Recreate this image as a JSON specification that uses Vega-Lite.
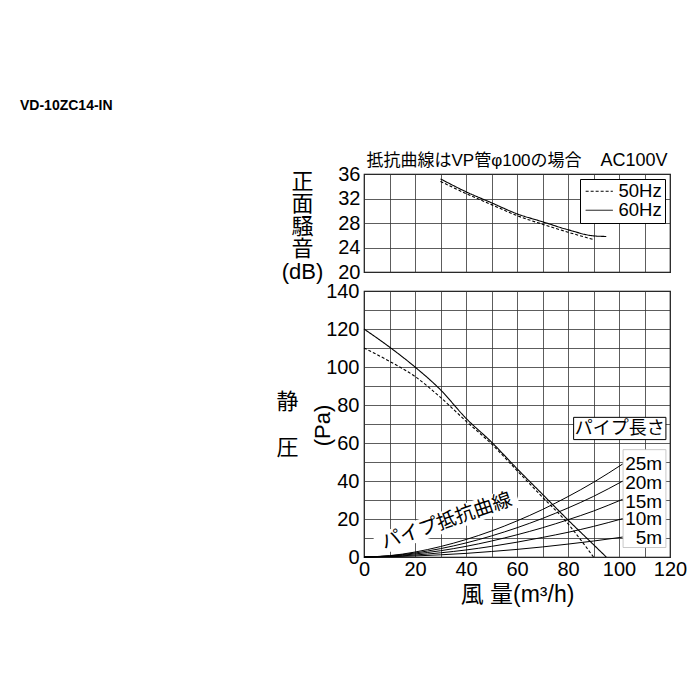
{
  "$schema": "https://vega.github.io/schema/vega-lite/v6.json",
  "padding": {"left": 20, "top": 99, "right": 5, "bottom": 5},
  "title": {"text": "VD-10ZC14-IN", "anchor": "start", "frame": "group", "font": "Liberation Sans", "fontSize": 14, "fontWeight": "bold", "color": "black", "dx": -344, "offset": 37},
  "datasets": {
    "noise": [
      {"q": 30, "db": 34.8, "freq": "50Hz"}, {"q": 40, "db": 32.8, "freq": "50Hz"}, {"q": 50, "db": 31.0, "freq": "50Hz"}, {"q": 60, "db": 29.2, "freq": "50Hz"}, {"q": 70, "db": 27.8, "freq": "50Hz"}, {"q": 80, "db": 26.5, "freq": "50Hz"}, {"q": 90, "db": 25.3, "freq": "50Hz"},
      {"q": 30, "db": 35.2, "freq": "60Hz"}, {"q": 40, "db": 33.1, "freq": "60Hz"}, {"q": 50, "db": 31.3, "freq": "60Hz"}, {"q": 60, "db": 29.5, "freq": "60Hz"}, {"q": 70, "db": 28.2, "freq": "60Hz"}, {"q": 80, "db": 26.9, "freq": "60Hz"}, {"q": 90, "db": 25.9, "freq": "60Hz"}, {"q": 95, "db": 25.8, "freq": "60Hz"}
    ],
    "pressure": [
      {"q": 0, "p": 110, "freq": "50Hz"}, {"q": 10, "p": 103, "freq": "50Hz"}, {"q": 20, "p": 95, "freq": "50Hz"}, {"q": 30, "p": 84, "freq": "50Hz"}, {"q": 40, "p": 71.5, "freq": "50Hz"}, {"q": 50, "p": 59.5, "freq": "50Hz"}, {"q": 60, "p": 45.5, "freq": "50Hz"}, {"q": 70, "p": 31.5, "freq": "50Hz"}, {"q": 80, "p": 17.5, "freq": "50Hz"}, {"q": 85, "p": 9, "freq": "50Hz"}, {"q": 90, "p": 0, "freq": "50Hz"},
      {"q": 0, "p": 120, "freq": "60Hz"}, {"q": 10, "p": 110.5, "freq": "60Hz"}, {"q": 20, "p": 100, "freq": "60Hz"}, {"q": 30, "p": 88, "freq": "60Hz"}, {"q": 40, "p": 73, "freq": "60Hz"}, {"q": 50, "p": 60.5, "freq": "60Hz"}, {"q": 60, "p": 46.5, "freq": "60Hz"}, {"q": 70, "p": 33, "freq": "60Hz"}, {"q": 80, "p": 19.5, "freq": "60Hz"}, {"q": 90, "p": 6.5, "freq": "60Hz"}, {"q": 95, "p": 0, "freq": "60Hz"}
    ],
    "pipe": [
      {"q": 0, "p": 0, "len": "25m"}, {"q": 10, "p": 0.7, "len": "25m"}, {"q": 20, "p": 2.6, "len": "25m"}, {"q": 30, "p": 5.5, "len": "25m"}, {"q": 40, "p": 9.2, "len": "25m"}, {"q": 50, "p": 13.7, "len": "25m"}, {"q": 60, "p": 19.0, "len": "25m"}, {"q": 70, "p": 25.0, "len": "25m"}, {"q": 80, "p": 31.8, "len": "25m"}, {"q": 90, "p": 39.3, "len": "25m"}, {"q": 101.5, "p": 49.0, "len": "25m"},
      {"q": 0, "p": 0, "len": "20m"}, {"q": 10, "p": 0.6, "len": "20m"}, {"q": 20, "p": 2.1, "len": "20m"}, {"q": 30, "p": 4.4, "len": "20m"}, {"q": 40, "p": 7.4, "len": "20m"}, {"q": 50, "p": 11.1, "len": "20m"}, {"q": 60, "p": 15.4, "len": "20m"}, {"q": 70, "p": 20.3, "len": "20m"}, {"q": 80, "p": 25.8, "len": "20m"}, {"q": 90, "p": 31.9, "len": "20m"}, {"q": 101.5, "p": 40.0, "len": "20m"},
      {"q": 0, "p": 0, "len": "15m"}, {"q": 10, "p": 0.45, "len": "15m"}, {"q": 20, "p": 1.6, "len": "15m"}, {"q": 30, "p": 3.3, "len": "15m"}, {"q": 40, "p": 5.6, "len": "15m"}, {"q": 50, "p": 8.4, "len": "15m"}, {"q": 60, "p": 11.7, "len": "15m"}, {"q": 70, "p": 15.4, "len": "15m"}, {"q": 80, "p": 19.6, "len": "15m"}, {"q": 90, "p": 24.2, "len": "15m"}, {"q": 101.5, "p": 30.4, "len": "15m"},
      {"q": 0, "p": 0, "len": "10m"}, {"q": 10, "p": 0.3, "len": "10m"}, {"q": 20, "p": 1.05, "len": "10m"}, {"q": 30, "p": 2.2, "len": "10m"}, {"q": 40, "p": 3.7, "len": "10m"}, {"q": 50, "p": 5.6, "len": "10m"}, {"q": 60, "p": 7.8, "len": "10m"}, {"q": 70, "p": 10.3, "len": "10m"}, {"q": 80, "p": 13.0, "len": "10m"}, {"q": 90, "p": 16.1, "len": "10m"}, {"q": 101.5, "p": 20.2, "len": "10m"},
      {"q": 0, "p": 0, "len": "5m"}, {"q": 10, "p": 0.15, "len": "5m"}, {"q": 20, "p": 0.55, "len": "5m"}, {"q": 30, "p": 1.15, "len": "5m"}, {"q": 40, "p": 1.9, "len": "5m"}, {"q": 50, "p": 2.9, "len": "5m"}, {"q": 60, "p": 4.0, "len": "5m"}, {"q": 70, "p": 5.3, "len": "5m"}, {"q": 80, "p": 6.8, "len": "5m"}, {"q": 90, "p": 8.4, "len": "5m"}, {"q": 101.5, "p": 10.5, "len": "5m"}
    ],
    "pipeLabels": [
      {"label": "25m", "p": 49.1}, {"label": "20m", "p": 38.8}, {"label": "15m", "p": 29.0}, {"label": "10m", "p": 19.8}, {"label": "5m", "p": 10.0}
    ]
  },
  "spacing": 19,
  "bounds": "flush",
  "vconcat": [
    {
      "width": 306,
      "height": 98,
      "layer": [
        {
          "data": {"name": "noise"},
          "mark": {"type": "line", "color": "black", "strokeWidth": 1.1, "interpolate": "monotone"},
          "encoding": {
            "x": {"field": "q", "type": "quantitative", "scale": {"domain": [0, 120], "nice": false, "zero": false},
              "axis": {"orient": "top", "values": [0, 10, 20, 30, 40, 50, 60, 70, 80, 90, 100, 110, 120], "labels": false, "grid": true,
                "title": "抵抗曲線はVP管φ100の場合", "titleFontSize": 17, "titleAnchor": "start", "titleAlign": "left", "titleBaseline": "middle", "titleX": 2, "titleY": -14}},
            "y": {"field": "db", "type": "quantitative", "scale": {"domain": [20, 36], "nice": false, "zero": false},
              "axis": {"orient": "left", "values": [20, 24, 28, 32, 36], "grid": true, "labelOverlap": false, "labelFlush": false, "title": ["正", "面", "騒", "音", "(dB)"], "titleAngle": 0, "titleAlign": "center", "titleBaseline": "top", "titleX": -62, "titleY": -3, "titleFontSize": 22, "titleLineHeight": 22.5}},
            "strokeDash": {"field": "freq", "type": "nominal", "scale": {"domain": ["50Hz", "60Hz"], "range": [[3, 2], [1, 0]]},
              "legend": {"title": null, "orient": "top-right", "offset": 5, "padding": 3, "fillColor": "white", "strokeColor": "black",
                "symbolType": "M-1.6,0H1.6", "symbolSize": 289, "symbolStrokeColor": "black", "symbolStrokeWidth": 1, "symbolFillColor": "transparent",
                "symbolOffset": 7, "labelOffset": 10, "labelFontSize": 18.5, "labelFont": "Liberation Sans", "labelColor": "black", "rowPadding": 0, "cornerRadius": 0}}
          }
        },
        {
          "data": {"name": "noise"},
          "mark": {"type": "point", "opacity": 0},
          "encoding": {
            "x": {"field": "q", "type": "quantitative", "scale": {"domain": [0, 120], "nice": false, "zero": false},
              "axis": {"orient": "top", "labels": false, "grid": false, "title": "AC100V", "titleFontSize": 18, "titleAlign": "right", "titleAnchor": "end", "titleBaseline": "middle", "titleX": 303, "titleY": -14}},
            "y": {"field": "db", "type": "quantitative", "scale": {"domain": [20, 36], "nice": false, "zero": false}, "axis": null}
          }
        }
      ],
      "resolve": {"axis": {"x": "independent", "y": "independent"}}
    },
    {
      "width": 306,
      "height": 266,
      "layer": [
        {
          "data": {"name": "pressure"},
          "mark": {"type": "line", "color": "black", "strokeWidth": 1.1, "interpolate": "monotone"},
          "encoding": {
            "x": {"field": "q", "type": "quantitative", "scale": {"domain": [0, 120], "nice": false, "zero": false},
              "axis": {"orient": "bottom", "values": [0, 10, 20, 30, 40, 50, 60, 70, 80, 90, 100, 110, 120], "labelExpr": "datum.value % 20 == 0 ? datum.label : ''", "grid": true, "labelPadding": 2, "labelOverlap": false, "labelFlush": false,
                "title": "風 量(m³/h)", "titleFontSize": 23, "titleAnchor": "start", "titleAlign": "center", "titleBaseline": "middle", "titleX": 153, "titleY": 37}},
            "y": {"field": "p", "type": "quantitative", "scale": {"domain": [0, 140], "nice": false, "zero": false},
              "axis": {"orient": "left", "values": [0, 10, 20, 30, 40, 50, 60, 70, 80, 90, 100, 110, 120, 130, 140], "labelExpr": "datum.value % 20 == 0 ? datum.label : ''", "grid": true, "labelPadding": 5, "labelOverlap": false, "labelFlush": false,
                "title": "(Pa)", "titleAngle": 270, "titleAlign": "center", "titleBaseline": "middle", "titleX": -42, "titleY": 134, "titleFontSize": 22}},
            "strokeDash": {"field": "freq", "type": "nominal", "scale": {"domain": ["50Hz", "60Hz"], "range": [[3, 2], [1, 0]]}, "legend": null}
          }
        },
        {
          "data": {"name": "pipe"},
          "mark": {"type": "line", "color": "black", "strokeWidth": 1, "interpolate": "monotone"},
          "encoding": {
            "x": {"field": "q", "type": "quantitative", "scale": {"domain": [0, 120], "nice": false, "zero": false}, "axis": null},
            "y": {"field": "p", "type": "quantitative", "scale": {"domain": [0, 140], "nice": false, "zero": false},
              "axis": {"orient": "left", "labels": false, "grid": false, "title": ["静", "圧"], "titleAngle": 0, "titleAlign": "center", "titleBaseline": "top", "titleX": -77, "titleY": 100, "titleFontSize": 22, "titleLineHeight": 46}},
            "detail": {"field": "len", "type": "nominal"}
          }
        },
        {
          "data": {"values": [{}]},
          "layer": [
            {
              "mark": {"type": "rect", "fill": "white", "stroke": "black", "strokeWidth": 1},
              "encoding": {
                "x": {"datum": 82.2, "type": "quantitative", "axis": null}, "x2": {"datum": 118.4},
                "y": {"datum": 73.5, "type": "quantitative", "axis": null}, "y2": {"datum": 61.8}
              }
            },
            {
              "mark": {"type": "text", "fontSize": 18, "color": "black", "align": "center", "baseline": "middle"},
              "encoding": {
                "x": {"datum": 100.3, "type": "quantitative", "axis": null},
                "y": {"datum": 67.6, "type": "quantitative", "axis": null},
                "text": {"value": "パイプ長さ"}
              }
            },
            {
              "mark": {"type": "rect", "fill": "white", "stroke": "#bbbbbb", "strokeWidth": 0.8},
              "encoding": {
                "x": {"datum": 101.6, "type": "quantitative", "axis": null}, "x2": {"datum": 118.4},
                "y": {"datum": 56.5, "type": "quantitative", "axis": null}, "y2": {"datum": 5.0}
              }
            },
            {
              "mark": {"type": "point", "shape": "M-3.6,-0.52H3.6V0.52H-3.6Z", "filled": true, "fill": "white", "color": "white", "opacity": 1, "strokeWidth": 0, "size": 1720, "angle": 341},
              "encoding": {
                "x": {"datum": 32.4, "type": "quantitative", "axis": null},
                "y": {"datum": 18.9, "type": "quantitative", "axis": null}
              }
            },
            {
              "mark": {"type": "text", "fontSize": 19.5, "color": "black", "align": "center", "baseline": "middle", "angle": 341},
              "encoding": {
                "x": {"datum": 32.4, "type": "quantitative", "axis": null},
                "y": {"datum": 18.9, "type": "quantitative", "axis": null},
                "text": {"value": "パイプ抵抗曲線"}
              }
            }
          ]
        },
        {
          "data": {"name": "pipeLabels"},
          "mark": {"type": "text", "fontSize": 19, "font": "Liberation Sans", "color": "black", "align": "right", "baseline": "middle"},
          "encoding": {
            "x": {"datum": 116.9, "type": "quantitative", "axis": null},
            "y": {"field": "p", "type": "quantitative", "axis": null},
            "text": {"field": "label", "type": "nominal"}
          }
        }
      ],
      "resolve": {"axis": {"x": "independent", "y": "independent"}}
    }
  ],
  "resolve": {"scale": {"x": "independent", "y": "independent", "strokeDash": "independent"}, "legend": {"strokeDash": "independent"}},
  "config": {
    "font": "Liberation Sans, Noto Sans CJK JP",
    "view": {"stroke": "black", "strokeWidth": 1.2},
    "axis": {"labelFont": "Liberation Sans Narrow, Liberation Sans", "labelFontSize": 20, "labelColor": "black", "labelPadding": 4, "ticks": false, "domain": false,
      "gridColor": "#333333", "gridWidth": 0.8, "gridOpacity": 1, "titleFont": "Liberation Sans, Noto Sans CJK JP", "titleColor": "black", "titleFontWeight": "normal", "titleFontSize": 22},
    "text": {"font": "Liberation Sans, Noto Sans CJK JP", "color": "black"}
  }
}
